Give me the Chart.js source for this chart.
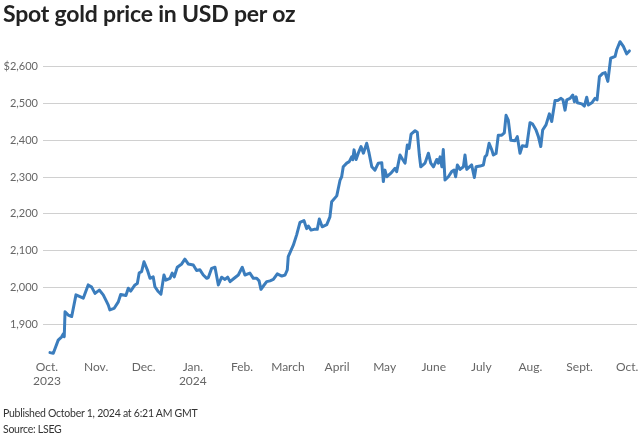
<!DOCTYPE html>
<html>
<head>
<meta charset="utf-8">
<script src="https://cdn.jsdelivr.net/npm/chart.js@4.4.1/dist/chart.umd.min.js"></script>
<style>
  html, body { margin: 0; padding: 0; background: #fff; }
  #wrap { position: relative; width: 643px; height: 439px; overflow: hidden; }
  #title { position: absolute; left: 3px; top: -1px; font-family: Lato, "Noto Sans", sans-serif; font-weight: 700; font-size: 23px; color: #222; white-space: nowrap; letter-spacing: -0.2px; }
  #foot { position: absolute; left: 3px; top: 405px; font-family: Lato, "Noto Sans", sans-serif; font-size: 10.5px; line-height: 16px; letter-spacing: -0.25px; color: #333; }
  canvas { position: absolute; left: 0; top: 0; }
</style>
</head>
<body>
<div id="wrap">
  <canvas id="c" width="643" height="439"></canvas>
  <div id="title">Spot gold price in USD per oz</div>
  <div id="foot">Published October 1, 2024 at 6:21 AM GMT<br>Source: LSEG</div>
</div>
<script>
// Day offsets from Oct. 1, 2023 and the spot gold price (USD/oz)
const dayOffsets = [
  1.9, 4, 7.1, 9.3, 10.3, 10.9, 11.4, 13.4, 15.6, 18.3, 20.8, 22.9, 26, 28.2, 30.3, 33, 35.5, 37.7, 38.7, 39.7,
  42.3, 45, 46.5, 49.8, 51.3, 52.8, 55.5, 57, 58.2, 59.7, 61.2, 63.3, 65, 67, 68.1, 70.2, 71.9, 73.8, 75, 77.6,
  79, 80.3, 82.2, 85, 87, 89.1, 92.3, 94.4, 96.5, 98.6, 100.8, 101.8, 103.9, 106, 108.1, 110.2, 112.3, 114, 115.5, 117.5,
  120.7, 123.2, 124.9, 128, 130.2, 132.3, 133.8, 135, 136.5, 138.6, 140.7, 142.8, 145.3, 148.1, 150.2, 151.6, 152.2, 155.4, 157.5, 159.6,
  162.1, 163.8, 164.9, 166.6, 168.5, 170.5, 171.8, 173.6, 176.5, 178.5, 179.6, 182.8, 184.9, 185.9, 186.9, 189.1, 190.7, 192.2, 192.9, 193.7,
  195, 196.4, 198.1, 199.6, 201.7, 203.2, 204.9, 206.9, 209, 211.2, 212.2, 213.2, 214.3, 216.8, 219.6, 220.6, 222.7, 224.4, 225.9, 227.3,
  228.4, 229.7, 232.2, 233.6, 234.9, 235.8, 238.5, 240.6, 242.1, 243.8, 245.9, 246.9, 248, 249.1, 250, 251.1, 253.2, 255.3, 256.8, 257.8,
  258.9, 260.6, 262.7, 263.7, 264.8, 267.9, 269.6, 270.7, 273.2, 275.3, 276.3, 277.4, 278.9, 280.6, 281.6, 283.3, 284.7, 286.9, 288.5, 289.6,
  291, 292.6, 295.3, 296.7, 298.4, 299.9, 302.6, 304.7, 306.4, 308.5, 310, 311.5, 312.7, 314.8, 316.9, 318.4, 320.5, 322.2, 324.3, 325.5,
  326.8, 327.9, 330, 331.7, 332.7, 333.8, 334.6, 337.4, 339, 340.5, 341.5, 343.7, 345.7, 347, 348.5, 350.6, 352.1, 353.8, 355.6, 358.4,
  359.4, 361.5, 363.6, 365.7, 367.4
];
const prices = [
  1823, 1821, 1857, 1866, 1874, 1866, 1934, 1925, 1921, 1980, 1975, 1971, 2007, 2001, 1984, 1993, 1980, 1961, 1952, 1939,
  1943, 1961, 1981, 1978, 1998, 1990, 2007, 2011, 2040, 2043, 2070, 2048, 2025, 2029, 2002, 1989, 1982, 2034, 2020, 2025,
  2039, 2029, 2055, 2064, 2077, 2064, 2061, 2046, 2048, 2034, 2025, 2027, 2052, 2055, 2007, 2028, 2022, 2028, 2016, 2023,
  2034, 2055, 2034, 2039, 2025, 2025, 2018, 1995, 2004, 2016, 2018, 2022, 2037, 2031, 2034, 2048, 2084, 2115, 2143, 2177,
  2182, 2160, 2167, 2156, 2158, 2158, 2186, 2165, 2171, 2192, 2233, 2249, 2292, 2301, 2328, 2338, 2342, 2355, 2347, 2374,
  2348, 2365, 2383, 2365, 2392, 2365, 2328, 2319, 2338, 2339, 2288, 2319, 2301, 2310, 2324, 2315, 2360, 2348, 2338, 2387,
  2378, 2417, 2426, 2422, 2360, 2328, 2338, 2365, 2338, 2328, 2348, 2338, 2355, 2328, 2375, 2292, 2301, 2315, 2319, 2301,
  2333, 2321, 2328, 2360, 2321, 2333, 2299, 2328, 2330, 2333, 2355, 2360, 2392, 2374, 2360, 2364, 2414, 2414, 2420, 2468,
  2455, 2400, 2399, 2410, 2365, 2385, 2383, 2448, 2444, 2428, 2410, 2383, 2428, 2442, 2472, 2451, 2508, 2508, 2514, 2510,
  2482, 2510, 2514, 2523, 2505, 2518, 2502, 2499, 2493, 2517, 2496, 2502, 2514, 2510, 2573, 2582, 2584, 2560, 2623, 2628,
  2646, 2668, 2655, 2635, 2643
];
// Month tick positions (days from Oct. 1, 2023) and their labels
const monthTicks = [0, 31, 61, 92, 123, 152, 183, 213, 244, 274, 305, 336, 366];
const monthLabels = [["Oct.", "2023"], "Nov.", "Dec.", ["Jan.", "2024"], "Feb.", "March", "April", "May", "June", "July", "Aug.", "Sept.", "Oct."];
const yTicks = [1900, 2000, 2100, 2200, 2300, 2400, 2500, 2600];

const points = dayOffsets.map((d, i) => ({ x: d, y: prices[i] }));
const tickFont = { family: "Lato, 'Noto Sans', sans-serif", size: 12 };

new Chart(document.getElementById('c'), {
  type: 'line',
  data: {
    datasets: [{
      data: points,
      borderColor: '#3b7dbd',
      borderWidth: 3,
      pointRadius: 0,
      tension: 0,
      fill: false,
      borderJoinStyle: 'round',
      borderCapStyle: 'round'
    }]
  },
  options: {
    responsive: false,
    animation: false,
    devicePixelRatio: 1,
    layout: { padding: { left: 3, right: 6, top: 33.6, bottom: 0 } },
    plugins: { legend: { display: false }, tooltip: { enabled: false } },
    scales: {
      x: {
        type: 'linear',
        min: -2.5,
        max: 372.2,
        afterBuildTicks: (s) => { s.ticks = monthTicks.map(v => ({ value: v })); },
        afterFit: (s) => { s.height = 81.6; },
        grid: { display: false, drawTicks: false },
        border: { display: false },
        ticks: {
          autoSkip: false,
          maxRotation: 0,
          padding: 3,
          color: '#666',
          font: { ...tickFont, lineHeight: 1.17 },
          callback: (v) => { const i = monthTicks.indexOf(v); return i >= 0 ? monthLabels[i] : ''; }
        }
      },
      y: {
        type: 'linear',
        min: 1810,
        max: 2690,
        afterBuildTicks: (s) => { s.ticks = yTicks.map(v => ({ value: v })); },
        afterFit: (s) => { s.width = 40; },
        grid: { color: '#d0d0d0', lineWidth: 1, drawTicks: false },
        border: { display: false },
        ticks: {
          padding: 5,
          color: '#666',
          font: { ...tickFont, size: 11 },
          callback: (v) => (v === 2600 ? '$' : '') + v.toLocaleString('en-US')
        }
      }
    }
  }
});
</script>
</body>
</html>
